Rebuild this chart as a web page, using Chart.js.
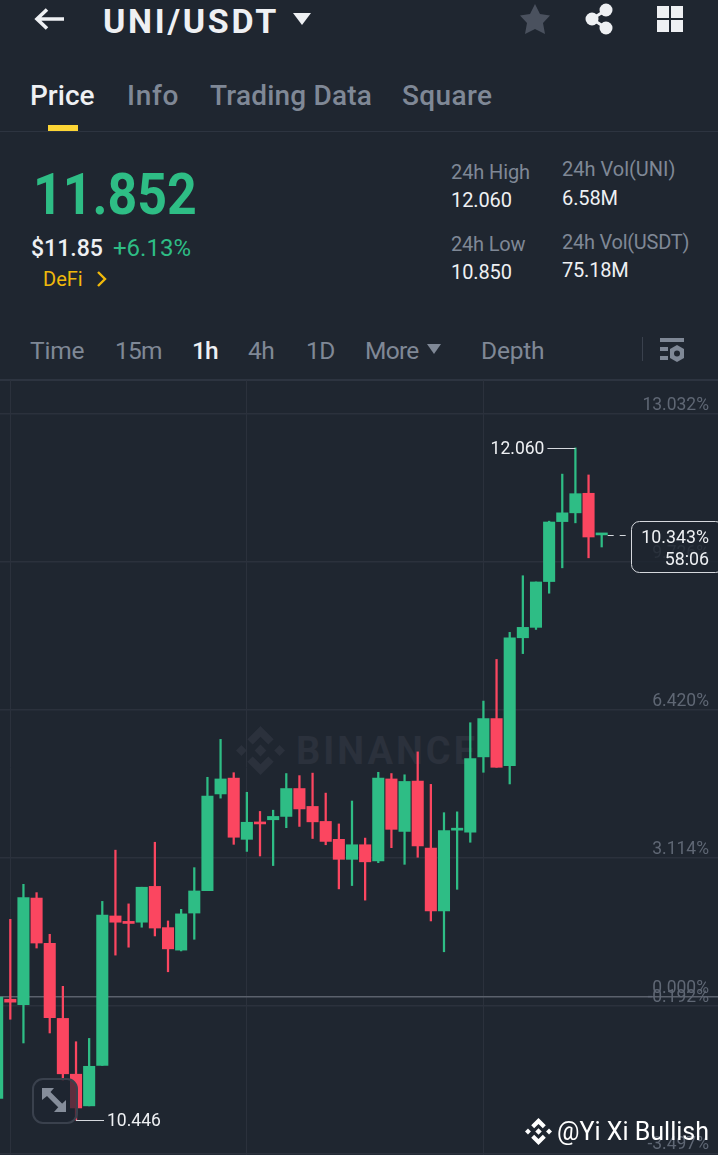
<!DOCTYPE html>
<html><head><meta charset="utf-8">
<script src="https://cdn.jsdelivr.net/npm/chart.js@4"></script>
<style>
html,body{margin:0;padding:0;background:#1f2630;overflow:hidden}
#page{position:relative;width:718px;height:1155px;overflow:hidden;font-family:Roboto,sans-serif}
.t{position:absolute;white-space:nowrap;line-height:1;color:#7f8896}
.w{color:#eef0f3}
.ln{position:absolute;background:#2d3440}
svg{position:absolute;overflow:visible}
canvas{position:absolute;left:0;top:380px}
</style></head><body>
<div id="page">
<svg width="0" height="0"><defs><symbol id="bn" viewBox="0 0 100 100">
<path d="M50 0L77 27 66 38 50 22 34 38 23 27Z"/><path d="M50 100L23 73 34 62 50 78 66 62 77 73Z"/>
<path d="M50 38L62 50 50 62 38 50Z"/><path d="M11 39L22 50 11 61 0 50Z"/><path d="M89 39L100 50 89 61 78 50Z"/>
</symbol></defs></svg>

<svg style="left:0;top:0" width="718" height="380">
<path d="M64 19H38M47 9.500L37 19 47 28.500" fill="none" stroke="#eef0f3" stroke-width="3.600"/>
<path d="M293 13H311L302 25Z" fill="#eef0f3"/>
<path d="M535 4L540 14 550 15.500 543 23 545 34 535 29 525 34 527 23 520 15.500 530 14Z" fill="#4a515e"/>
<g fill="#eef0f3"><circle cx="606" cy="10" r="6.500"/><circle cx="606" cy="28" r="6.500"/><circle cx="592" cy="19" r="6.500"/></g>
<path d="M606 10L592 19 606 28" stroke="#eef0f3" stroke-width="3" fill="none"/>
<g fill="#eef0f3"><rect x="657" y="6" width="12" height="12"/><rect x="671" y="6" width="12" height="12"/><rect x="657" y="20" width="12" height="12"/><rect x="671" y="20" width="12" height="12"/></g>
<path d="M98 272L105 279 98 286" fill="none" stroke="#f0b90b" stroke-width="2.400"/>
<path d="M427 344H441L434 354Z" fill="#7f8896"/>
<g fill="#7f8896"><rect x="660" y="338" width="24" height="4"/><rect x="660" y="347" width="8" height="4"/><rect x="660" y="356" width="8" height="4"/><path d="M677 345L684 349V358L677 362 670 358V349Z"/></g>
<circle cx="677" cy="353.500" r="3" fill="#1f2630"/>
</svg>

<div class="t w" id="title" style="left:103px;top:4px;font-size:34px;font-weight:700;letter-spacing:2.700px">UNI/USDT</div>
<div class="t w" style="left:30px;top:82px;font-size:28px;font-weight:500">Price</div>
<div class="t" style="left:127px;top:82px;font-size:28px;font-weight:500;letter-spacing:.7px">Info</div>
<div class="t" style="left:210px;top:82px;font-size:28px;font-weight:500;letter-spacing:.2px">Trading Data</div>
<div class="t" style="left:402px;top:82px;font-size:28px;font-weight:500;letter-spacing:.4px">Square</div>
<div class="ln" style="left:48px;top:125px;width:30px;height:6px;background:#fcd535"></div>
<div class="ln" style="left:0;top:131px;width:718px;height:1px"></div>

<div class="t" style="left:33px;top:166px;font-size:57px;font-weight:700;color:#2ebd85;transform:scaleX(.91);transform-origin:0 0">11.852</div>
<div class="t w" style="left:31px;top:236px;font-size:24px;font-weight:500;transform:scaleX(.96);transform-origin:0 0">$11.85</div>
<div class="t" style="left:113px;top:236px;font-size:24px;color:#2ebd85">+6.13%</div>
<div class="t" style="left:43px;top:269px;font-size:20px;color:#f0b90b">DeFi</div>

<div class="t" style="left:451px;top:162px;font-size:20px;letter-spacing:-.1px">24h High</div>
<div class="t w" style="left:451px;top:190px;font-size:20px;letter-spacing:-.1px">12.060</div>
<div class="t" style="left:562px;top:159px;font-size:20px">24h Vol(UNI)</div>
<div class="t w" style="left:562px;top:188px;font-size:20px;letter-spacing:-.1px">6.58M</div>
<div class="t" style="left:451px;top:234px;font-size:20px;letter-spacing:-.2px">24h Low</div>
<div class="t w" style="left:451px;top:262px;font-size:20px;letter-spacing:-.1px">10.850</div>
<div class="t" style="left:562px;top:232px;font-size:20px;letter-spacing:-.25px">24h Vol(USDT)</div>
<div class="t w" style="left:562px;top:260px;font-size:20px;letter-spacing:-.2px">75.18M</div>

<div class="t" style="left:30px;top:339px;font-size:24.500px;letter-spacing:-.2px">Time</div>
<div class="t" style="left:115px;top:339px;font-size:24.500px;letter-spacing:-.8px">15m</div>
<div class="t w" style="left:192px;top:339px;font-size:24.500px;font-weight:500;letter-spacing:-.8px">1h</div>
<div class="t" style="left:248px;top:339px;font-size:24.500px;letter-spacing:-.5px">4h</div>
<div class="t" style="left:306px;top:339px;font-size:24.500px;letter-spacing:-.6px">1D</div>
<div class="t" style="left:365px;top:339px;font-size:24.500px;letter-spacing:-.7px">More</div>
<div class="t" style="left:481px;top:339px;font-size:24.500px;letter-spacing:-.2px">Depth</div>
<div class="ln" style="left:642px;top:337px;width:1px;height:24px;background:#3a414d"></div>
<div class="ln" style="left:0;top:379px;width:718px;height:2px"></div>

<svg style="left:236px;top:726px;fill:#2b313c" width="49" height="49"><use href="#bn" width="49" height="49"/></svg>
<div class="t" style="left:296px;top:732px;font-size:38px;font-weight:700;color:#2b313c;letter-spacing:3px">BINANCE</div>

<canvas id="c" width="718" height="775"></canvas>

<div style="position:absolute;left:32px;top:1078px;width:42px;height:42px;border:2px solid #3a414d;border-radius:11px;background:rgba(31,38,48,.72)"></div>
<svg style="left:0;top:0" width="718" height="1155">
<g fill="#858d9a"><path d="M42 1088H54L50.500 1092 66 1107.500 62 1111 47 1096 42 1100Z"/><path d="M66 1112H54L57.500 1108 66 1100V1112Z"/></g>
</svg>
<svg style="left:525px;top:1118px;fill:#fff" width="27" height="27"><use href="#bn" width="27" height="27"/></svg>
<div class="t" style="left:557px;top:1119px;font-size:25px;color:#fff">@Yi Xi Bullish</div>
</div>
<script>
const opens  = [10.498,10.736,10.723,10.979,10.870,10.690,10.556,10.480,10.577,10.936,10.923,10.921,11.007,10.908,10.854,10.943,10.997,11.229,11.267,11.120,11.161,11.167,11.175,11.242,11.199,11.163,11.120,11.072,11.107,11.068,11.265,11.139,11.260,11.099,10.948,11.142,11.137,11.318,11.410,11.297,11.604,11.629,11.739,11.883,11.904,11.951,11.851];
const closes = [10.741,10.729,10.980,10.871,10.692,10.557,10.475,10.575,10.938,10.921,10.918,11.005,10.907,10.857,10.941,10.996,11.224,11.265,11.125,11.161,11.157,11.175,11.242,11.193,11.162,11.115,11.072,11.107,11.066,11.267,11.144,11.259,11.104,10.948,11.141,11.146,11.314,11.410,11.293,11.604,11.629,11.738,11.882,11.904,11.950,11.846,11.852];
const highs  = [10.770,10.928,11.012,10.992,10.892,10.767,10.634,10.642,10.971,11.094,10.965,11.005,11.113,10.924,10.952,11.052,11.269,11.360,11.280,11.233,11.187,11.190,11.278,11.273,11.279,11.231,11.157,11.212,11.123,11.281,11.278,11.275,11.330,11.252,11.184,11.186,11.400,11.452,11.552,11.617,11.753,11.738,11.884,11.997,12.060,11.995,11.852];
const lows   = [10.494,10.688,10.631,10.859,10.655,10.542,10.446,10.480,10.577,10.842,10.861,10.909,10.888,10.802,10.852,10.880,10.997,11.219,11.108,11.091,11.080,11.057,11.148,11.151,11.122,11.107,11.001,11.009,10.974,11.064,11.100,11.060,11.077,10.924,10.850,11.000,11.113,11.281,11.293,11.253,11.566,11.624,11.711,11.772,11.880,11.796,11.822];
const percentTicks  = [13.032,9.726,6.420,3.114,0.000,-0.192,-3.497];
const percentLabels = ['13.032%','9.726%','6.420%','3.114%','0.000%','-0.192%','-3.497%'];
const timeGridIndexes = [1,19,37];
const basePrice = 10.741, lastPrice = 11.852;
const highMark = {index:44, value:12.060, label:'12.060'};
const lowMark  = {index:6,  value:10.446, label:'10.446'};
const lastLabel = '10.343%', countdown = '58:06';

const GREEN='#2ebd85', RED='#fb4660';
const colors = opens.map((o,i)=> closes[i]>=o ? GREEN : RED);
const tickValues = percentTicks.map(p=>basePrice*(1+p/100));

const marks = {
  id:'marks',
  afterDatasetsDraw(chart){
    const {ctx,scales:{x,y}} = chart;
    ctx.save();
    ctx.font='17.5px Roboto'; ctx.textBaseline='middle'; ctx.fillStyle='#eef0f3'; ctx.strokeStyle='#d5d8dd'; ctx.lineWidth=1;
    let hx=x.getPixelForValue(highMark.index), hy=Math.round(y.getPixelForValue(highMark.value))+.5;
    ctx.beginPath(); ctx.moveTo(hx,hy); ctx.lineTo(hx-28,hy); ctx.stroke();
    ctx.textAlign='right'; ctx.fillText(highMark.label,hx-31,hy+1);
    let lx=x.getPixelForValue(lowMark.index), ly=Math.round(y.getPixelForValue(lowMark.value))+.5;
    ctx.beginPath(); ctx.moveTo(lx,ly); ctx.lineTo(lx+28,ly); ctx.stroke();
    ctx.textAlign='left'; ctx.fillText(lowMark.label,lx+31,ly+1);
    const lp=Math.round(y.getPixelForValue(lastPrice))+.5, sx=x.getPixelForValue(opens.length-1)+6;
    ctx.setLineDash([6,6]); ctx.beginPath(); ctx.moveTo(sx,lp); ctx.lineTo(630,lp); ctx.stroke(); ctx.setLineDash([]);
    ctx.beginPath(); ctx.roundRect(631.500,lp-14,92,51,8);
    ctx.fillStyle='rgba(31,38,48,.82)'; ctx.fill(); ctx.stroke();
    ctx.fillStyle='#eef0f3'; ctx.textAlign='right'; ctx.font='17.800px Roboto';
    ctx.fillText(lastLabel,709,lp+3); ctx.fillText(countdown,709,lp+25);
    ctx.restore();
  }
};

new Chart(document.getElementById('c'),{
  type:'bar',
  data:{datasets:[
    {label:'wick',order:2,grouped:false,barThickness:1.6,backgroundColor:colors,
     data:highs.map((h,i)=>({x:i,y:[lows[i],h]}))},
    {label:'body',order:1,grouped:false,barThickness:11.4,minBarLength:2,backgroundColor:colors,
     data:opens.map((o,i)=>({x:i,y:[o,closes[i]]}))}
  ]},
  options:{
    responsive:false,animation:false,devicePixelRatio:1,
    layout:{padding:0},
    plugins:{legend:{display:false},tooltip:{enabled:false}},
    scales:{
      x:{type:'linear',min:0.216,max:54.85,offset:false,
         afterBuildTicks(s){s.ticks=timeGridIndexes.map(v=>({value:v}));},
         afterFit(s){s.height=0;s.paddingLeft=s.paddingRight=0;},
         ticks:{display:false},border:{display:false},
         grid:{offset:false,color:'#2b313c',lineWidth:1,drawTicks:false}},
      y:{type:'linear',position:'right',min:10.362,max:12.223,
         afterBuildTicks(s){s.ticks=tickValues.map(v=>({value:v}));},
         afterFit(s){s.width=0;s.paddingTop=s.paddingBottom=0;},
         border:{display:false},
         ticks:{mirror:true,autoSkip:false,padding:-9,labelOffset:-8.500,color:'#5f6774',
                font:{family:'Roboto',size:17.500},
                callback(v,i){return percentLabels[i];}},
         grid:{drawTicks:false,lineWidth:1.500,
               color(c){return c.index===4?'#5b616c':'#2b313c';}}}
    }
  },
  plugins:[marks]
});
</script>
</body></html>
